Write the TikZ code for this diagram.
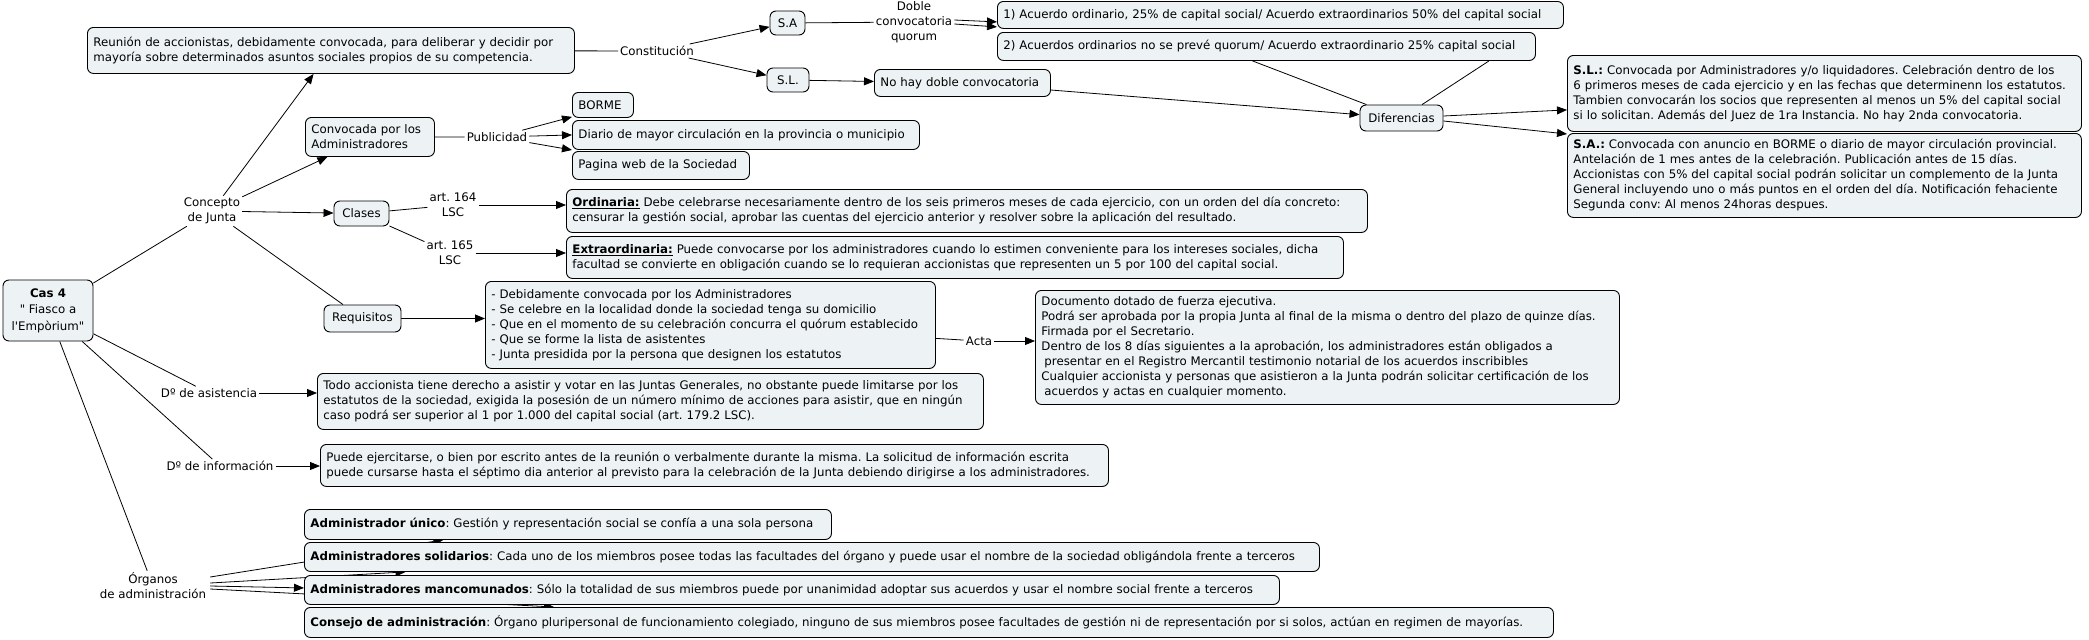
\documentclass[tikz,border=0pt]{standalone}
\usepackage{fontspec}
\newfontfamily\dv{DejaVu Sans}
\usetikzlibrary{arrows.meta,calc,backgrounds}
\definecolor{boxfill}{RGB}{237,243,245}
\begin{document}
\frenchspacing
\begin{tikzpicture}[x=1pt,y=-1pt,
  every node/.style={font=\dv\fontsize{11.8}{15}\selectfont},
  box/.style={draw=black, line width=0.9pt, fill=boxfill, rounded corners=6pt, align=left, inner xsep=6pt, inner ysep=3pt, anchor=north west},
  sbox/.style={draw=black, line width=0.9pt, fill=boxfill, rounded corners=6pt, align=center, inner xsep=4pt, inner ysep=3pt},
  lab/.style={align=center, inner sep=2pt},
  conn/.style={line width=0.8pt},
  arr/.style={line width=0.8pt, -{Triangle[length=10pt,width=8pt]}},
]
\useasboundingbox (0,0) rectangle (2089,640);

% ---------- boxes ----------
\node[box, text width=475pt, minimum height=46pt] (reunion) at (87,27) {Reunión de accionistas, debidamente convocada, para deliberar y decidir por\\mayoría sobre determinados asuntos sociales propios de su competencia.};
\node[box, text width=554pt, minimum height=27pt] (box1) at (997,1) {1) Acuerdo ordinario, 25\% de capital social/ Acuerdo extraordinarios 50\% del capital social};
\node[box, text width=526pt, minimum height=28pt] (box2) at (997,32) {2) Acuerdos ordinarios no se prevé quorum/ Acuerdo extraordinario 25\% capital social};
\node[box, text width=164pt, minimum height=27pt] (nohay) at (874,69) {No hay doble convocatoria};
\node[box, text width=502pt, minimum height=76pt] (slbox) at (1567,55) {\textbf{S.L.:} Convocada por Administradores y/o liquidadores. Celebración dentro de los\\6 primeros meses de cada ejercicio y en las fechas que determinenn los estatutos.\\Tambien convocarán los socios que representen al menos un 5\% del capital social\\si lo solicitan. Además del Juez de 1ra Instancia. No hay 2nda convocatoria.};
\node[box, text width=502pt, minimum height=84pt] (sabox) at (1567,133) {\textbf{S.A.:} Convocada con anuncio en BORME o diario de mayor circulación provincial.\\Antelación de 1 mes antes de la celebración. Publicación antes de 15 días.\\Accionistas con 5\% del capital social podrán solicitar un complemento de la Junta\\General incluyendo uno o más puntos en el orden del día. Notificación fehaciente\\Segunda conv: Al menos 24horas despues.};
\node[box, text width=49pt, minimum height=25pt] (borme) at (572,92) {BORME};
\node[box, text width=335pt, minimum height=29pt] (diario) at (572,120) {Diario de mayor circulación en la provincia o municipio};
\node[box, text width=165pt, minimum height=28pt] (pagina) at (572,151) {Pagina web de la Sociedad};
\node[box, text width=117pt, minimum height=39pt] (convocada) at (305,117) {Convocada por los\\Administradores};
\node[box, text width=789pt, minimum height=43pt] (ordinaria) at (566,189) {\underline{\textbf{Ordinaria:}} Debe celebrarse necesariamente dentro de los seis primeros meses de cada ejercicio, con un orden del día concreto:\\censurar la gestión social, aprobar las cuentas del ejercicio anterior y resolver sobre la aplicación del resultado.};
\node[box, text width=765pt, minimum height=42pt] (extra) at (566,236) {\underline{\textbf{Extraordinaria:}} Puede convocarse por los administradores cuando lo estimen conveniente para los intereses sociales, dicha\\facultad se convierte en obligación cuando se lo requieran accionistas que representen un 5 por 100 del capital social.};
\node[box, text width=438pt, minimum height=87pt] (reqlist) at (485,281) {- Debidamente convocada por los Administradores\\- Se celebre en la localidad donde la sociedad tenga su domicilio\\- Que en el momento de su celebración concurra el quórum establecido\\- Que se forme la lista de asistentes\\- Junta presidida por la persona que designen los estatutos};
\node[box, text width=572pt, minimum height=114pt] (actabox) at (1035,290) {Documento dotado de fuerza ejecutiva.\\Podrá ser aprobada por la propia Junta al final de la misma o dentro del plazo de quinze días.\\Firmada por el Secretario.\\Dentro de los 8 días siguientes a la aprobación, los administradores están obligados a\\\hspace*{3pt}presentar en el Registro Mercantil testimonio notarial de los acuerdos inscribibles\\Cualquier accionista y personas que asistieron a la Junta podrán solicitar certificación de los\\\hspace*{3pt}acuerdos y actas en cualquier momento.};
\node[box, text width=654pt, minimum height=56pt] (asis) at (317,373) {Todo accionista tiene derecho a asistir y votar en las Juntas Generales, no obstante puede limitarse por los\\estatutos de la sociedad, exigida la posesión de un número mínimo de acciones para asistir, que en ningún\\caso podrá ser superior al 1 por 1.000 del capital social (art. 179.2 LSC).};
\node[box, text width=776pt, minimum height=42pt] (info) at (320,444) {Puede ejercitarse, o bien por escrito antes de la reunión o verbalmente durante la misma. La solicitud de información escrita\\puede cursarse hasta el séptimo dia anterior al previsto para la celebración de la Junta debiendo dirigirse a los administradores.};
\node[box, text width=515pt, minimum height=30pt] (unico) at (304,509) {\textbf{Administrador único}: Gestión y representación social se confía a una sola persona};
\node[box, text width=1003pt, minimum height=29pt] (solid) at (304,542) {\textbf{Administradores solidarios}: Cada uno de los miembros posee todas las facultades del órgano y puede usar el nombre de la sociedad obligándola frente a terceros};
\node[box, text width=963pt, minimum height=29pt] (manc) at (304,575) {\textbf{Administradores mancomunados}: Sólo la totalidad de sus miembros puede por unanimidad adoptar sus acuerdos y usar el nombre social frente a terceros};
\node[box, text width=1237pt, minimum height=30pt] (consejo) at (304,607) {\textbf{Consejo de administración}: Órgano pluripersonal de funcionamiento colegiado, ninguno de sus miembros posee facultades de gestión ni de representación por si solos, actúan en regimen de mayorías.};

% ---------- small boxes ----------
\node[sbox, minimum width=35pt, minimum height=24pt] (sa) at (787.5,23) {S.A};
\node[sbox, minimum width=42pt, minimum height=24pt] (sl) at (788,80) {S.L.};
\node[sbox, minimum width=83pt, minimum height=26pt] (dif) at (1401.5,118) {Diferencias};
\node[sbox, minimum width=55pt, minimum height=25pt] (clases) at (361.5,213.5) {Clases};
\node[sbox, minimum width=77pt, minimum height=27pt] (requisitos) at (362.5,318.5) {Requisitos};
\node[sbox, minimum width=90pt, minimum height=61pt, font=\dv\fontsize{11.8}{16.5}\selectfont] (cas4) at (48,310.5) {\textbf{Cas 4}\\" Fiasco a\\l'Empòrium"};

% ---------- linking phrases ----------
\node[lab] (constit) at (657,51) {Constitución};
\node[lab] (doble) at (914,22) {Doble\\convocatoria\\quorum};
\node[lab] (publ) at (497,137) {Publicidad};
\node[lab] (concepto) at (212,211) {Concepto\\de Junta};
\node[lab] (a164) at (453,205) {art. 164\\LSC};
\node[lab] (a165) at (450,253) {art. 165\\LSC};
\node[lab] (acta) at (979,341) {Acta};
\node[lab] (dasis) at (209,393) {Dº de asistencia};
\node[lab] (dinfo) at (220,466) {Dº de información};
\node[lab] (organos) at (153,586) {Órganos\\de administración};

% ---------- connectors ----------
\begin{pgfonlayer}{background}
\fill[white] (0,0) rectangle (2089,640);
\draw[conn] (cas4) -- (concepto);
\draw[arr] (concepto) -- (reunion);
\draw[arr] (concepto) -- (convocada);
\draw[arr] (concepto) -- (clases);
\draw[conn] (concepto) -- (requisitos);
\draw[conn] (reunion) -- (constit);
\draw[arr] (constit) -- (sa);
\draw[arr] (constit) -- (sl);
\draw[conn] (sa) -- (doble);
\draw[arr] ($(doble.east)+(0,-2)$) -- ($(box1.south west)+(0,-7)$);
\draw[arr] ($(doble.east)+(0,2)$) -- ($(box1.south west)+(0,-2)$);
\draw[arr] (sl) -- (nohay);
\draw[arr] (nohay) -- (dif);
\draw[conn] ($(box2.south west)!0.474!(box2.south east)$) -- (dif);
\draw[conn] ($(box2.south west)!0.913!(box2.south east)$) -- (dif);
\draw[arr] ($(dif.east)+(0,-2)$) -- ($(slbox.south west)+(0,-22)$);
\draw[arr] ($(dif.east)+(0,3)$) -- ($(sabox.north west)+(0,1)$);
\draw[conn] (convocada) -- (publ);
\draw[arr] (publ) -- ($(borme.south west)+(0,-1)$);
\draw[arr] (publ) -- (diario.west);
\draw[arr] (publ) -- ($(pagina.north west)+(0,-1)$);
\draw[conn] (clases) -- (a164);
\draw[arr] (a164) -- (a164 -| ordinaria.west);
\draw[conn] (clases) -- (a165);
\draw[arr] (a165) -- (a165 -| extra.west);
\draw[arr] (requisitos) -- (requisitos -| reqlist.west);
\draw[conn] (reqlist) -- (acta);
\draw[arr] (acta) -- (acta -| actabox.west);
\draw[conn] (cas4) -- (dasis);
\draw[arr] (dasis) -- (dasis -| asis.west);
\draw[conn] (cas4) -- (dinfo);
\draw[arr] (dinfo) -- (dinfo -| info.west);
\draw[conn] (cas4) -- (organos);
\draw[arr] ($(organos.east)+(2,-9)$) -- ($(unico.south west)!0.264!(unico.south east)$);
\draw[arr] ($(organos.east)+(2,-3)$) -- ($(solid.south west)!0.1!(solid.south east)$);
\draw[arr] ($(organos.east)+(2,0)$) -- ($(manc.west)+(0,-2)$);
\draw[arr] ($(organos.east)+(2,3)$) -- ($(consejo.north west)!0.2!(consejo.north east)$);
\end{pgfonlayer}
\end{tikzpicture}
\end{document}
